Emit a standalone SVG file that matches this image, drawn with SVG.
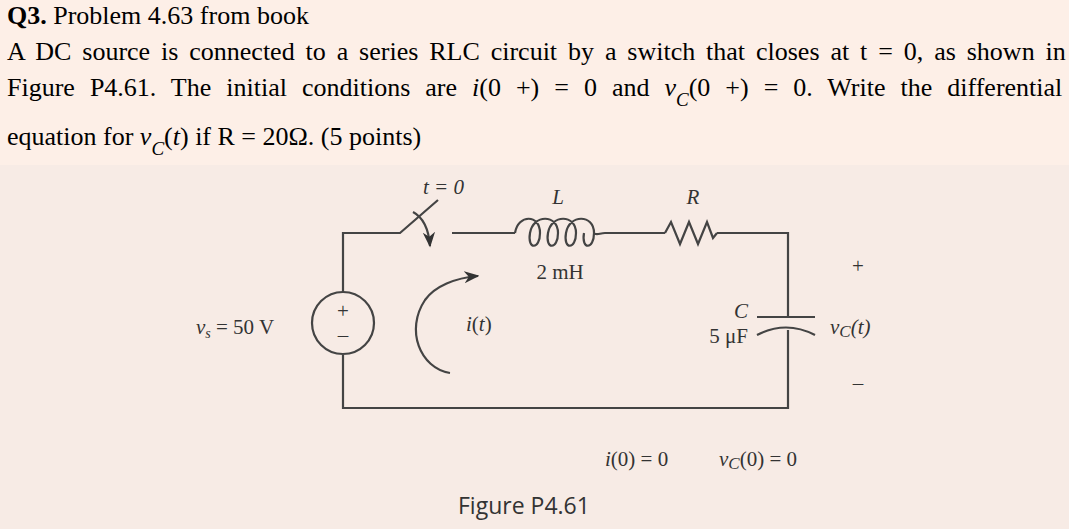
<svg xmlns="http://www.w3.org/2000/svg" width="1069" height="529" viewBox="0 0 1069 529">
<defs>
<marker id="ah" viewBox="0 0 10 10" refX="9" refY="5" markerWidth="7" markerHeight="7" orient="auto"><path d="M0,1 L10,5 L0,9 L3,5 z" fill="#333"/></marker>
</defs>
<style>
.t{font-family:"Liberation Serif",serif;fill:#000;font-size:26px}
.f{font-family:"Liberation Serif",serif;fill:#333;font-size:21px}
.w{fill:none;stroke:#444;stroke-width:2.2}
</style>
<rect width="1069" height="529" fill="#fdefe7"/>
<rect x="0" y="165" width="1069" height="364" fill="#f7ebe5"/>
<text class="t" x="7" y="24"><tspan font-weight="bold">Q3.</tspan> Problem 4.63 from book</text>
<text class="t" x="7" y="60" word-spacing="4.4">A DC source is connected to a series RLC circuit by a switch that closes at t = 0, as shown in</text>
<text class="t" x="7" y="96" word-spacing="8.5">Figure P4.61. The initial conditions are <tspan font-style="italic">i</tspan>(0 +) = 0 and <tspan font-style="italic">v</tspan><tspan font-style="italic" font-size="19" dy="10">C</tspan><tspan dy="-10">(0 +) = 0. Write the differential</tspan></text>
<text class="t" x="7" y="145">equation for <tspan font-style="italic">v</tspan><tspan font-style="italic" font-size="19" dy="10">C</tspan><tspan dy="-10">(<tspan font-style="italic">t</tspan>) if R = 20Ω. (5 points)</tspan></text>
<g id="connectors">
<path class="w" d="M343,292 V233 H400 L438,200"/>
<path class="w" d="M452,233 H515 M605,233 H665 M717,233 H788 V317 M788,330 V408 H343 V355"/>
<path class="w" d="M413,212 Q428,220 430,246" marker-end="url(#ah)"/>
</g>
<g id="source"><circle class="w" cx="343" cy="323" r="31"/>
<text class="f" x="343" y="318" text-anchor="middle" font-size="22">+</text>
<text class="f" x="343" y="342" text-anchor="middle" font-size="22">–</text></g>
<g id="inductor"><path class="w" d="M515,233 C518,214 540,214 540,233 C540,250 527,250 530,233 C533,214 558,214 558,233 C558,250 545,250 548,233 C551,214 576,214 576,233 C576,250 563,250 566,233 C569,214 594,214 594,233 C594,250 581,250 584,233 M594,233 C596,236 600,233 605,233"/></g>
<g id="resistor"><path class="w" d="M665,233 L671,222 L680,244 L689,222 L698,244 L707,222 L713,238 L717,233"/></g>
<g id="capacitor"><path class="w" stroke-width="3" d="M757,317 H815"/><path class="w" stroke-width="3" d="M757,335 Q786,320 815,335"/></g>
<g id="current"><path class="w" d="M450,373 C420,368 405,330 425,300 C435,286 455,278 478,276" marker-end="url(#ah)"/></g>
<text class="f" x="423" y="194" font-style="italic" font-size="19">t = 0</text>
<text class="f" x="558" y="204" text-anchor="middle" font-style="italic">L</text>
<text class="f" x="693" y="204" text-anchor="middle" font-style="italic">R</text>
<text class="f" x="560" y="279" text-anchor="middle">2 mH</text>
<text class="f" x="748" y="318" text-anchor="end" font-style="italic">C</text>
<text class="f" x="748" y="343" text-anchor="end">5 μF</text>
<text class="f" x="466" y="331"><tspan font-style="italic">i</tspan>(<tspan font-style="italic">t</tspan>)</text>
<text class="f" x="196" y="334"><tspan font-style="italic">v</tspan><tspan font-size="14" dy="4" font-style="italic">s</tspan><tspan dy="-4"> = 50 V</tspan></text>
<text class="f" x="858" y="273" text-anchor="middle">+</text>
<text class="f" x="858" y="390" text-anchor="middle">–</text>
<text class="f" x="830" y="334" font-style="italic">v<tspan font-size="17" dy="3">C</tspan><tspan dy="-3">(t)</tspan></text>
<text class="f" x="605" y="466"><tspan font-style="italic">i</tspan>(0) = 0</text>
<text class="f" x="719" y="466"><tspan font-style="italic">v</tspan><tspan font-style="italic" font-size="17" dy="3">C</tspan><tspan dy="-3">(0) = 0</tspan></text>
<text x="458" y="514" font-family="Open Sans, sans-serif" font-size="23" fill="#333">Figure P4.61</text>
</svg>
